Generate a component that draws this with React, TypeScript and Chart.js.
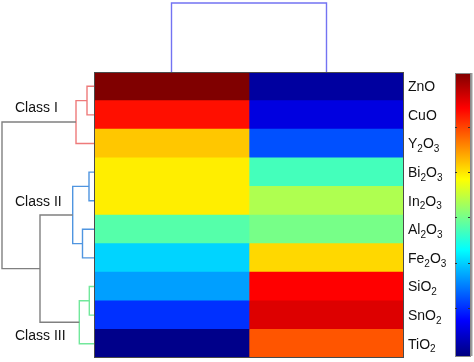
import React, { useEffect, useRef } from "react";
import { Chart, registerables } from "chart.js";

Chart.register(...registerables);

// ---- data ----
const rowLabels = ["ZnO", "CuO", "Y2O3", "Bi2O3", "In2O3", "Al2O3", "Fe2O3", "SiO2", "SnO2", "TiO2"];
const column1Values = [1.0, 0.86, 0.68, 0.642, 0.642, 0.458, 0.333, 0.281, 0.172, 0.01];
const column2Values = [0.032, 0.095, 0.203, 0.442, 0.547, 0.492, 0.663, 0.875, 0.908, 0.792];
const classLabels = ["Class I", "Class II", "Class III"];
// row dendrogram linkage (ids < 10 are rows, ids >= 10 are earlier merges)
const linkLeft = [0, 10, 3, 5, 12, 7, 15, 14, 11];
const linkRight = [1, 2, 4, 6, 13, 8, 9, 16, 17];
const linkHeight = [0.07, 0.18, 0.05, 0.115, 0.213, 0.047, 0.147, 0.54, 0.92];
const linkClass = [0, 0, 1, 1, 1, 2, 2, -1, -1];
const colorbarTicks = [0.17, 0.33, 0.49, 0.65, 0.81];

function jet(v: number): string {
  const c = (x: number) => Math.round(255 * Math.max(0, Math.min(1, x)));
  const r = c(1.5 - Math.abs(4 * v - 3));
  const g = c(1.5 - Math.abs(4 * v - 2));
  const b = c(1.5 - Math.abs(4 * v - 1));
  return `rgb(${r},${g},${b})`;
}

const classColors = ["#ee7a7a", "#4f95e0", "#72e89c"];
const rootColor = "#808080";
const topColor = "#7373f2";
const FONT = "'Liberation Sans', Arial, sans-serif";

function drawChem(ctx: CanvasRenderingContext2D, label: string, x: number, y: number) {
  let cx = x;
  const parts = label.match(/[A-Za-z]+|\d+/g) || [];
  for (const p of parts) {
    const isSub = /^\d+$/.test(p);
    ctx.font = isSub ? `10px ${FONT}` : `14px ${FONT}`;
    ctx.fillText(p, cx, isSub ? y + 5 : y);
    cx += ctx.measureText(p).width;
  }
}

const overlayPlugin = {
  id: "heatmapOverlay",
  afterDatasetsDraw(chart: any) {
    const ctx: CanvasRenderingContext2D = chart.ctx;
    const area = chart.chartArea;
    const yScale = chart.scales.y;
    const xScale = chart.scales.x;
    ctx.save();

    // heatmap frame
    ctx.strokeStyle = "#4a4a4a";
    ctx.lineWidth = 1;
    ctx.strokeRect(area.left + 0.5, area.top + 0.5, area.right - area.left - 1, area.bottom - area.top - 1);

    // row labels
    ctx.fillStyle = "#111";
    ctx.textBaseline = "middle";
    ctx.textAlign = "left";
    rowLabels.forEach((lab, i) => {
      drawChem(ctx, lab, area.right + 4, yScale.getPixelForValue(i) + 1);
    });

    // left dendrogram
    const n = rowLabels.length;
    const rootX = 2;
    const maxH = Math.max(...linkHeight);
    const pxPerUnit = (area.left - rootX) / maxH;
    const nodeX: number[] = [];
    const nodeY: number[] = [];
    for (let i = 0; i < n; i++) {
      nodeX[i] = area.left;
      nodeY[i] = yScale.getPixelForValue(i);
    }
    ctx.lineWidth = 1.4;
    for (let k = 0; k < linkLeft.length; k++) {
      const a = linkLeft[k];
      const b = linkRight[k];
      const mx = area.left - linkHeight[k] * pxPerUnit;
      const cls = linkClass[k];
      ctx.strokeStyle = cls >= 0 ? classColors[cls] : rootColor;
      ctx.beginPath();
      ctx.moveTo(nodeX[a], nodeY[a]);
      ctx.lineTo(mx, nodeY[a]);
      ctx.lineTo(mx, nodeY[b]);
      ctx.lineTo(nodeX[b], nodeY[b]);
      ctx.stroke();
      nodeX[n + k] = mx;
      nodeY[n + k] = (nodeY[a] + nodeY[b]) / 2;
    }

    // top dendrogram
    const c1 = xScale.getPixelForValue(0.5);
    const c2 = xScale.getPixelForValue(1.5);
    const topY = 3;
    ctx.strokeStyle = topColor;
    ctx.beginPath();
    ctx.moveTo(c1, area.top);
    ctx.lineTo(c1, topY);
    ctx.lineTo(c2, topY);
    ctx.lineTo(c2, area.top);
    ctx.stroke();

    // class labels
    ctx.fillStyle = "#111";
    ctx.font = `14px ${FONT}`;
    const anchors = [0.75, 4.05, 8.72];
    classLabels.forEach((lab, i) => {
      ctx.fillText(lab, 15, yScale.getPixelForValue(anchors[i]));
    });

    // colorbar
    const cbL = 455;
    const cbR = 470;
    const cbT = area.top + 1;
    const cbB = area.bottom - 2;
    const grad = ctx.createLinearGradient(0, cbB, 0, cbT);
    for (let s = 0; s <= 16; s++) {
      grad.addColorStop(s / 16, jet(s / 16));
    }
    ctx.fillStyle = grad;
    ctx.fillRect(cbL, cbT, cbR - cbL, cbB - cbT);
    ctx.fillStyle = "#9a9a9a";
    ctx.fillRect(cbR, cbT, 2.5, cbB - cbT);
    ctx.strokeStyle = "#8a8a8a";
    ctx.lineWidth = 1;
    ctx.strokeRect(cbL + 0.5, cbT + 0.5, cbR - cbL, cbB - cbT);
    ctx.strokeStyle = "#333";
    colorbarTicks.forEach((t) => {
      const ty = Math.round(cbB - t * (cbB - cbT)) + 0.5;
      ctx.beginPath();
      ctx.moveTo(cbL, ty);
      ctx.lineTo(cbL + 2, ty);
      ctx.moveTo(cbR - 2, ty);
      ctx.lineTo(cbR, ty);
      ctx.stroke();
    });

    ctx.restore();
  },
};

export default function App() {
  const canvasRef = useRef<HTMLCanvasElement | null>(null);

  useEffect(() => {
    document.body.style.margin = "0";
    const canvas = canvasRef.current;
    if (!canvas) return;
    const chart = new Chart(canvas, {
      type: "bar",
      data: {
        labels: rowLabels,
        datasets: [
          {
            data: column1Values.map(() => [0, 1]) as any,
            backgroundColor: column1Values.map(jet),
            borderWidth: 0,
            grouped: false,
            barPercentage: 1,
            categoryPercentage: 1,
          } as any,
          {
            data: column2Values.map(() => [1, 2]) as any,
            backgroundColor: column2Values.map(jet),
            borderWidth: 0,
            grouped: false,
            barPercentage: 1,
            categoryPercentage: 1,
          } as any,
        ],
      },
      options: {
        indexAxis: "y",
        responsive: false,
        animation: false,
        layout: { padding: { left: 94, right: 70, top: 72, bottom: 4 } },
        scales: {
          x: { type: "linear", min: 0, max: 2, display: false },
          y: { display: false, offset: true },
        },
        plugins: { legend: { display: false }, tooltip: { enabled: false } },
      },
      plugins: [overlayPlugin],
    });
    return () => chart.destroy();
  }, []);

  return (
    <div style={{ width: 474, height: 362, background: "#fff" }}>
      <canvas ref={canvasRef} width={474} height={362} style={{ display: "block" }} />
    </div>
  );
}
